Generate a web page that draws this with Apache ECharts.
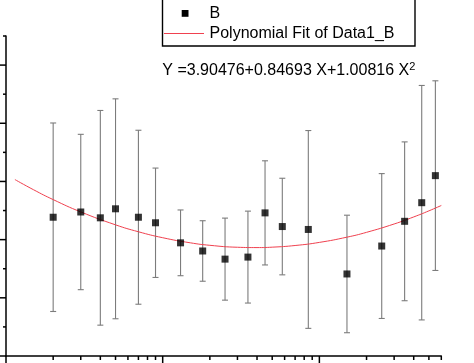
<!DOCTYPE html>
<html><head><meta charset="utf-8">
<script src="https://cdn.jsdelivr.net/npm/echarts@6/dist/echarts.min.js"></script>
<style>html,body{margin:0;padding:0;background:#fff}#c{width:474px;height:363px}</style>
</head><body><div id="c"></div>
<script>
// ---- data ----
const xValues = [0.02, 0.03, 0.04, 0.05, 0.07, 0.09, 0.13, 0.18, 0.25, 0.35, 0.45, 0.58, 0.85, 1.5, 2.5, 3.5, 4.5, 5.5];
const yValues = [4.77, 4.95, 4.75, 5.06, 4.77, 4.58, 3.89, 3.61, 3.33, 3.40, 4.92, 4.45, 4.35, 2.82, 3.78, 4.63, 5.27, 6.20];
const yErrors = [3.24, 2.67, 3.69, 3.78, 2.99, 1.88, 1.13, 1.04, 1.41, 1.58, 1.79, 1.66, 3.40, 2.02, 2.49, 2.73, 4.03, 3.26];
const fitX = [0.0114, 0.015, 0.02, 0.03, 0.05, 0.07, 0.1, 0.15, 0.2, 0.3, 0.4, 0.5, 0.7, 1, 1.5, 2, 3, 4, 5, 6];
const fitY = [6.066, 5.714, 5.376, 4.953, 4.509, 4.271, 4.066, 3.891, 3.805, 3.738, 3.727, 3.741, 3.798, 3.905, 4.085, 4.251, 4.538, 4.780, 4.989, 5.174];
const xMajorTicks = [0.01, 0.1, 1];
const xMinorTicks = [0.02, 0.03, 0.04, 0.05, 0.06, 0.07, 0.08, 0.09, 0.2, 0.3, 0.4, 0.5, 0.6, 0.7, 0.8, 0.9, 2, 3, 4, 5, 6];
const yMajorTicks = [0, 2, 4, 6, 8, 10];
const yMinorTicks = [1, 3, 5, 7, 9, 11];
const legendNames = ['B', 'Polynomial Fit of Data1_B'];
const equationMain = 'Y =3.90476+0.84693 X+1.00816 X';
const equationSup = '2';

const FONT = "'Liberation Sans', Arial, sans-serif";
const RED = '#f0414f';
const GREY = '#7c7c7c';

const chart = echarts.init(document.getElementById('c'), null, {renderer: 'canvas'});

function xTickSeries(vals, len) {
  return {
    type: 'custom', clip: false, z: 10, silent: true,
    data: vals.map(v => [v, 0]),
    encode: {x: 0, y: 1},
    renderItem(params, api) {
      const p = api.coord([api.value(0), api.value(1)]);
      return {type: 'line', shape: {x1: p[0], y1: p[1], x2: p[0], y2: p[1] + len},
        style: {stroke: '#000', lineWidth: 1.5}};
    }
  };
}
function yTickSeries(vals, len) {
  return {
    type: 'custom', clip: false, z: 10, silent: true,
    data: vals.map(v => [0.01, v]),
    encode: {x: 0, y: 1},
    renderItem(params, api) {
      const p = api.coord([api.value(0), api.value(1)]);
      return {type: 'line', shape: {x1: p[0], y1: p[1], x2: p[0] - len, y2: p[1]},
        style: {stroke: '#000', lineWidth: 1.5}};
    }
  };
}

const option = {
  animation: false,
  backgroundColor: '#fff',
  grid: {left: 6, top: 36, right: 32.7, bottom: 7, containLabel: false},
  xAxis: {
    type: 'log', logBase: 10, min: 0.01, max: 6,
    axisLine: {show: true, onZero: false, lineStyle: {color: '#000', width: 1.5}},
    axisTick: {show: false}, axisLabel: {show: false},
    splitLine: {show: false}, minorTick: {show: false}
  },
  yAxis: {
    type: 'value', min: 0, max: 11, interval: 1,
    axisLine: {show: true, onZero: false, lineStyle: {color: '#000', width: 1.5}},
    axisTick: {show: false}, axisLabel: {show: false},
    splitLine: {show: false}
  },
  series: [
    {
      name: 'errors', type: 'custom', z: 2, silent: true,
      data: xValues.map((x, i) => [x, yValues[i], yErrors[i]]),
      encode: {x: 0, y: 1},
      renderItem(params, api) {
        const x = api.value(0), y = api.value(1), e = api.value(2);
        const t = api.coord([x, y + e]);
        const b = api.coord([x, y - e]);
        const hw = 3;
        const st = {stroke: GREY, lineWidth: 1.1};
        return {type: 'group', children: [
          {type: 'line', shape: {x1: t[0], y1: t[1], x2: b[0], y2: b[1]}, style: st},
          {type: 'line', shape: {x1: t[0] - hw, y1: t[1], x2: t[0] + hw, y2: t[1]}, style: st},
          {type: 'line', shape: {x1: b[0] - hw, y1: b[1], x2: b[0] + hw, y2: b[1]}, style: st}
        ]};
      }
    },
    {
      name: legendNames[1], type: 'line', z: 3, smooth: true, showSymbol: false,
      data: fitX.map((x, i) => [x, fitY[i]]),
      lineStyle: {color: RED, width: 1}
    },
    {
      name: legendNames[0], type: 'scatter', z: 4, symbol: 'rect', symbolSize: 7,
      data: xValues.map((x, i) => [x, yValues[i]]),
      itemStyle: {color: '#000'}
    },
    xTickSeries(xMajorTicks, 7),
    xTickSeries(xMinorTicks, 4),
    yTickSeries(yMajorTicks, 6),
    yTickSeries(yMinorTicks, 3)
  ],
  graphic: [
    {type: 'rect', z: 20, shape: {x: 162.5, y: -10, width: 252.5, height: 56},
      style: {fill: '#fff', stroke: '#000', lineWidth: 1.4}},
    {type: 'rect', z: 21, shape: {x: 181.7, y: 10, width: 6.8, height: 6.8}, style: {fill: '#000'}},
    {type: 'line', z: 21, shape: {x1: 164, y1: 33.5, x2: 204, y2: 33.5}, style: {stroke: RED, lineWidth: 1}},
    {type: 'text', z: 21, x: 209.5, y: 13.8,
      style: {text: legendNames[0], font: '16px ' + FONT, fill: '#000', verticalAlign: 'middle', align: 'left'}},
    {type: 'text', z: 21, x: 209.5, y: 33.4,
      style: {text: legendNames[1], font: '16px ' + FONT, fill: '#000', verticalAlign: 'middle', align: 'left'}},
    {type: 'text', z: 21, x: 162.3, y: 70.5,
      style: {
        text: '{m|' + equationMain + '}{s|' + equationSup + '}',
        verticalAlign: 'middle', align: 'left',
        rich: {
          m: {fontFamily: FONT, fontSize: 16, fill: '#000', lineHeight: 18},
          s: {fontFamily: FONT, fontSize: 11, fill: '#000', lineHeight: 11, verticalAlign: 'top'}
        }
      }}
  ]
};
chart.setOption(option);
</script>
</body></html>
